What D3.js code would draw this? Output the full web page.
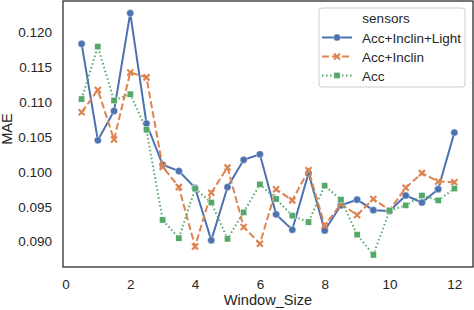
<!DOCTYPE html>
<html>
<head>
<meta charset="utf-8">
<script src="https://cdn.jsdelivr.net/npm/d3@7"></script>
<style>
  body { margin: 0; background: #fff; }
  svg text { font-family: "Liberation Sans", Arial, sans-serif; fill: #262626; }
</style>
</head>
<body>
<div id="chart"></div>
<script>
var windowSizes = [0.5, 1, 1.5, 2, 2.5, 3, 3.5, 4, 4.5, 5, 5.5, 6, 6.5, 7, 7.5, 8, 8.5, 9, 9.5, 10, 10.5, 11, 11.5, 12];
var accInclinLight = [0.1183, 0.1045, 0.1087, 0.1227, 0.1069, 0.1010, 0.1001, 0.0977, 0.0902, 0.0978, 0.1017, 0.1025,
	0.0939, 0.0917, 0.0998, 0.0916, 0.0952, 0.0960, 0.0945, 0.0944, 0.0966, 0.0956, 0.0975, 0.1056];
var accInclin = [0.1085, 0.1117, 0.1046, 0.1142, 0.1135, 0.1007, 0.0978, 0.0893, 0.0970, 0.1006, 0.0921, 0.0897,
	0.0975, 0.0959, 0.1002, 0.0923, 0.0954, 0.0938, 0.0961, 0.0945, 0.0977, 0.0998, 0.0986, 0.0985];
var acc = [0.1104, 0.1179, 0.1102, 0.1111, 0.1060, 0.0931, 0.0905, 0.0976, 0.0956, 0.0904, 0.0942, 0.0982,
	0.0961, 0.0937, 0.0928, 0.0980, 0.0960, 0.0910, 0.0881, 0.0944, 0.0952, 0.0966, 0.0959, 0.0976];
var sensorNames = ["Acc+Inclin+Light", "Acc+Inclin", "Acc"];
var xTicks = [0, 2, 4, 6, 8, 10, 12];
var yTicks = [0.090, 0.095, 0.100, 0.105, 0.110, 0.115, 0.120];

var series = [
	{name: sensorNames[0], values: accInclinLight, color: "#4C72B0", dash: null, marker: "circle"},
	{name: sensorNames[1], values: accInclin, color: "#DD8452", dash: "7,3", marker: "x"},
	{name: sensorNames[2], values: acc, color: "#55A868", dash: "1.5,2.5", marker: "square"}
];

var width = 474, height = 310;
var plotLeft = 63, plotRight = 473, plotTop = 1, plotBottom = 267;

var svg = d3.select("#chart").append("svg")
	.attr("width", width)
	.attr("height", height);

// matplotlib style 5% margins
var xExt = d3.extent(windowSizes);
var xPad = (xExt[1] - xExt[0]) * 0.05;
var allVals = accInclinLight.concat(accInclin, acc);
var yExt = d3.extent(allVals);
var yPad = (yExt[1] - yExt[0]) * 0.05;

var x = d3.scaleLinear().domain([xExt[0] - xPad, xExt[1] + xPad]).range([plotLeft, plotRight]);
var y = d3.scaleLinear().domain([yExt[0] - yPad, yExt[1] + yPad]).range([plotBottom, plotTop]);

// axes (no tick marks, seaborn white style)
var xAxis = svg.append("g")
	.attr("transform", "translate(0," + plotBottom + ")")
	.call(d3.axisBottom(x).tickValues(xTicks).tickSize(0).tickPadding(12).tickFormat(d3.format("d")));
var yAxis = svg.append("g")
	.attr("transform", "translate(" + plotLeft + ",0)")
	.call(d3.axisLeft(y).tickValues(yTicks).tickSize(0).tickPadding(11).tickFormat(d3.format(".3f")));
[xAxis, yAxis].forEach(function(a){
	a.select(".domain").remove();
	a.selectAll("text").style("font-size", "13.5px").attr("fill", "#262626");
});

svg.append("text")
	.attr("x", (plotLeft + plotRight) / 2)
	.attr("y", 305)
	.attr("text-anchor", "middle")
	.style("font-size", "14.6px")
	.text("Window_Size");
svg.append("text")
	.attr("transform", "translate(12,129) rotate(-90)")
	.attr("text-anchor", "middle")
	.style("font-size", "14.6px")
	.text("MAE");

function drawMarker(g, s, cx, cy) {
	if (s.marker === "circle") {
		g.append("circle").attr("cx", cx).attr("cy", cy).attr("r", 3.6)
			.attr("fill", s.color).attr("stroke", "#fff").attr("stroke-width", 0.4);
	} else if (s.marker === "square") {
		var h = 3.1;
		g.append("rect").attr("x", cx - h).attr("y", cy - h).attr("width", 2 * h).attr("height", 2 * h)
			.attr("fill", s.color).attr("stroke", "#fff").attr("stroke-width", 0.4);
	} else {
		var d = 3;
		g.append("path")
			.attr("d", "M" + (cx - d) + "," + (cy - d) + "L" + (cx + d) + "," + (cy + d) +
				"M" + (cx - d) + "," + (cy + d) + "L" + (cx + d) + "," + (cy - d))
			.attr("stroke", s.color).attr("stroke-width", 2.2).attr("fill", "none");
	}
}

var line = d3.line().x(function(d){ return x(d[0]); }).y(function(d){ return y(d[1]); });

series.forEach(function(s){
	var pts = windowSizes.map(function(w, i){ return [w, s.values[i]]; });
	var g = svg.append("g");
	g.append("path")
		.attr("d", line(pts))
		.attr("fill", "none")
		.attr("stroke", s.color)
		.attr("stroke-width", 2)
		.attr("stroke-dasharray", s.dash);
	pts.forEach(function(p){ drawMarker(g, s, x(p[0]), y(p[1])); });
});

// frame
svg.append("rect")
	.attr("x", plotLeft).attr("y", plotTop)
	.attr("width", plotRight - plotLeft).attr("height", plotBottom - plotTop)
	.attr("fill", "none").attr("stroke", "#262626").attr("stroke-width", 1.25);

// legend
var legend = svg.append("g");
legend.append("rect")
	.attr("x", 319).attr("y", 8).attr("width", 146).attr("height", 79).attr("rx", 3)
	.attr("fill", "#fff").attr("fill-opacity", 0.8)
	.attr("stroke", "#cccccc").attr("stroke-width", 1);
legend.append("text")
	.attr("x", 386).attr("y", 23)
	.attr("text-anchor", "middle")
	.style("font-size", "13.5px")
	.text("sensors");
series.forEach(function(s, i){
	var ly = 37.5 + i * 19;
	legend.append("line")
		.attr("x1", 322).attr("x2", 352).attr("y1", ly).attr("y2", ly)
		.attr("stroke", s.color).attr("stroke-width", 2)
		.attr("stroke-dasharray", s.dash);
	drawMarker(legend, s, 337, ly);
	legend.append("text")
		.attr("x", 362).attr("y", ly + 5)
		.style("font-size", "13.5px")
		.text(s.name);
});
</script>
</body>
</html>
